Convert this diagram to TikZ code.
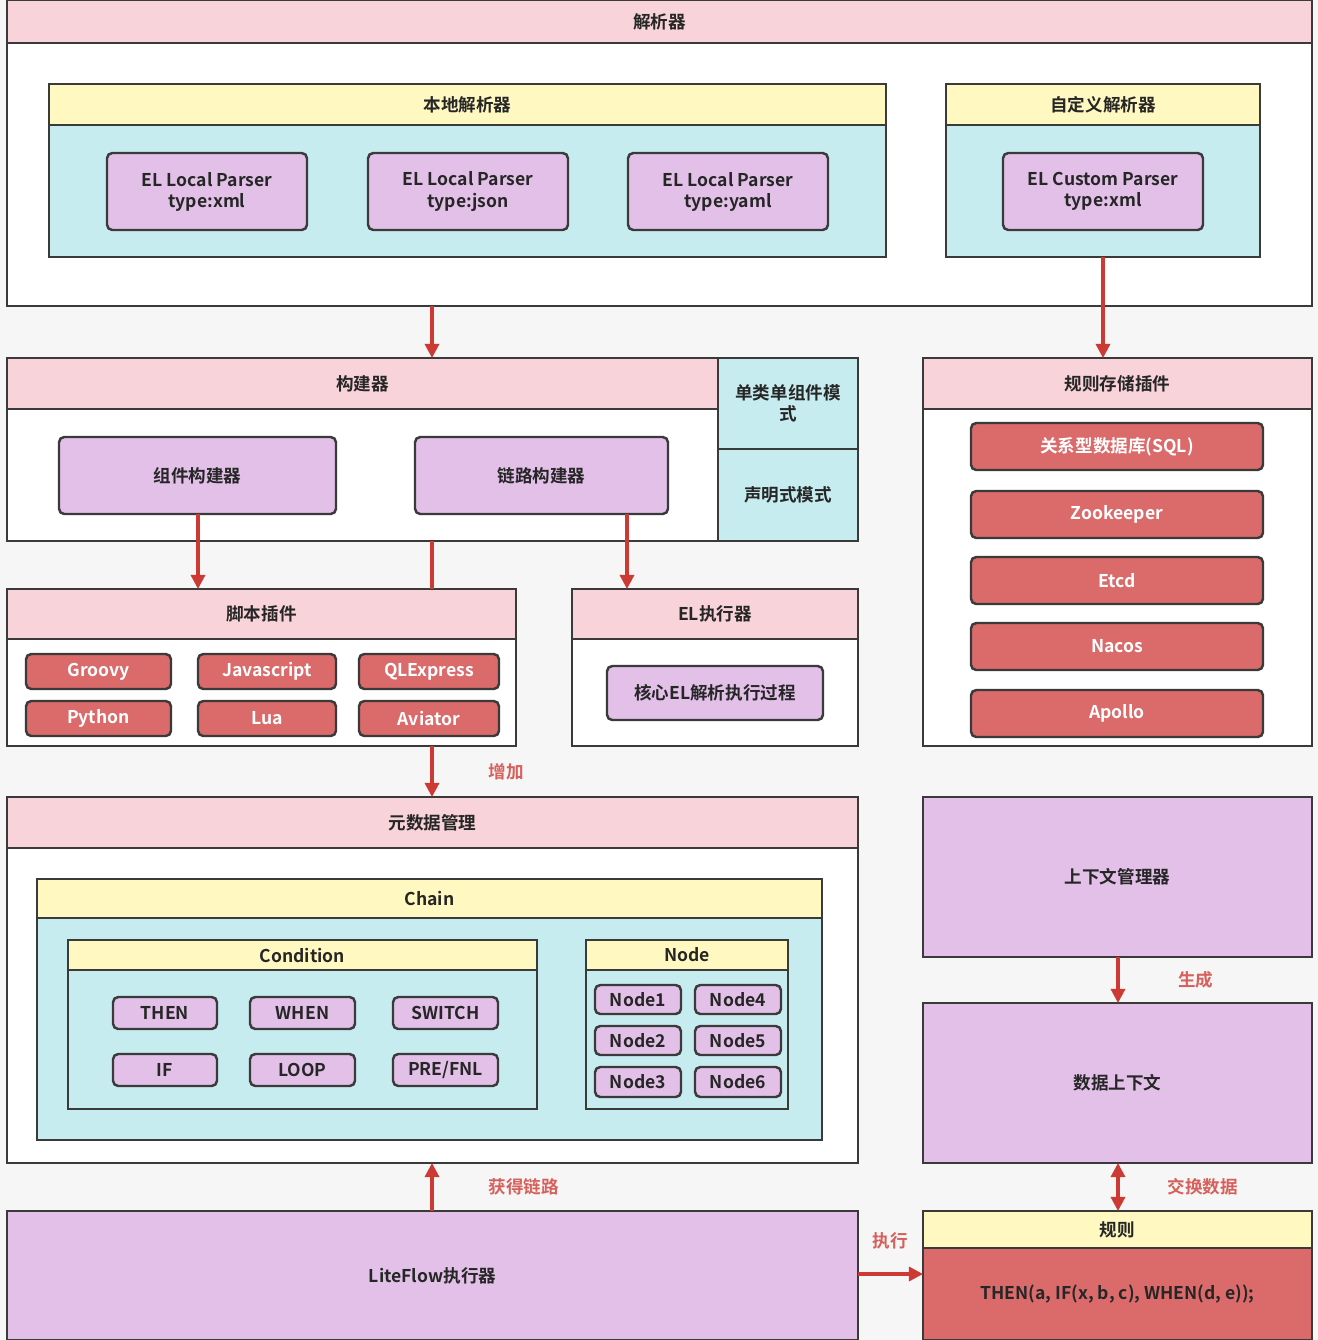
\documentclass[tikz,border=0pt]{standalone}
\usepackage{fontspec}
\setmainfont{Noto Sans CJK SC}[BoldFont={Noto Sans CJK SC Bold}]
\usetikzlibrary{arrows.meta}
\definecolor{bg}{HTML}{F6F6F6}
\definecolor{pk}{HTML}{F8D3DA}
\definecolor{yl}{HTML}{FFF8C0}
\definecolor{cy}{HTML}{C6ECF0}
\definecolor{pu}{HTML}{E2C0E8}
\definecolor{rd}{HTML}{DB6B6B}
\definecolor{ar}{HTML}{CC3A33}
\definecolor{ln}{HTML}{3A3A3A}
\tikzset{
 base/.style={draw=ln,line width=1.4pt,inner sep=0,outer sep=0,font=\bfseries\fontsize{10}{12}\selectfont,align=center,text=black!85},
 wh/.style={base,fill=white},
 hd/.style={base,fill=pk},
 yh/.style={base,fill=yl},
 cb/.style={base,fill=cy},
 pn/.style={base,fill=pu,rounded corners=3pt},
 pb/.style={base,fill=pu},
 rn/.style={base,fill=rd,rounded corners=3pt,text=white},
 rb/.style={base,fill=rd},
 arr/.style={draw=ar,line width=1.8pt,-{Triangle[length=8pt,width=8pt]}},
 darr/.style={draw=ar,line width=1.8pt,{Triangle[length=8pt,width=8pt]}-{Triangle[length=8pt,width=8pt]}},
 lbl/.style={text=ar!80,font=\bfseries\fontsize{10}{12}\selectfont},
}
\newcommand{\bx}[7]{\node[#6,minimum width={(#4-#2)*0.02cm},minimum height={(#5-#3)*0.02cm}] (#1) at ({(#2+#4)/2},{(#3+#5)/2}) {#7};}
\begin{document}
\begin{tikzpicture}[x=0.02cm,y=-0.02cm]
\fill[bg] (0,0) rectangle (1318,1340);
\useasboundingbox (0,0) rectangle (1318,1340);
% parser
\bx{parser}{7}{0}{1312}{306}{wh}{}
\bx{parserh}{7}{0}{1312}{43}{hd}{解析器}
\bx{local}{49}{84}{886}{257}{cb}{}
\bx{localh}{49}{84}{886}{125}{yh}{本地解析器}
\bx{lp1}{107}{153}{307}{230}{pn}{EL Local Parser\\type:xml}
\bx{lp2}{368}{153}{568}{230}{pn}{EL Local Parser\\type:json}
\bx{lp3}{628}{153}{828}{230}{pn}{EL Local Parser\\type:yaml}
\bx{cust}{946}{84}{1260}{257}{cb}{}
\bx{custh}{946}{84}{1260}{125}{yh}{自定义解析器}
\bx{cp}{1003}{153}{1203}{230}{pn}{EL Custom Parser\\type:xml}
% builder
\bx{bld}{7}{358}{718}{541}{wh}{}
\bx{bldh}{7}{358}{718}{409}{hd}{构建器}
\bx{m1}{718}{358}{858}{449}{cb}{单类单组件模\\式}
\bx{m2}{718}{449}{858}{541}{cb}{声明式模式}
\bx{cb1}{59}{437}{336}{514}{pn}{组件构建器}
\bx{cb2}{415}{437}{668}{514}{pn}{链路构建器}
% storage
\bx{st}{923}{358}{1312}{746}{wh}{}
\bx{sth}{923}{358}{1312}{409}{hd}{规则存储插件}
\bx{s1}{971}{423}{1263}{470}{rn}{关系型数据库(SQL)}
\bx{s2}{971}{491}{1263}{538}{rn}{Zookeeper}
\bx{s3}{971}{557}{1263}{604}{rn}{Etcd}
\bx{s4}{971}{623}{1263}{670}{rn}{Nacos}
\bx{s5}{971}{690}{1263}{737}{rn}{Apollo}
% script
\bx{sc}{7}{589}{516}{746}{wh}{}
\bx{sch}{7}{589}{516}{639}{hd}{脚本插件}
\bx{g1}{26}{654}{171}{689}{rn}{Groovy}
\bx{g2}{198}{654}{336}{689}{rn}{Javascript}
\bx{g3}{359}{654}{499}{689}{rn}{QLExpress}
\bx{g4}{26}{701}{171}{736}{rn}{Python}
\bx{g5}{198}{701}{336}{736}{rn}{Lua}
\bx{g6}{359}{701}{499}{736}{rn}{Aviator}
% EL exec
\bx{ex}{572}{589}{858}{746}{wh}{}
\bx{exh}{572}{589}{858}{639}{hd}{EL执行器}
\bx{core}{607}{666}{823}{720}{pn}{核心EL解析执行过程}
% metadata
\bx{md}{7}{797}{858}{1163}{wh}{}
\bx{mdh}{7}{797}{858}{848}{hd}{元数据管理}
\bx{ch}{37}{879}{822}{1140}{cb}{}
\bx{chh}{37}{879}{822}{918}{yh}{Chain}
\bx{cd}{68}{940}{537}{1109}{cb}{}
\bx{cdh}{68}{940}{537}{970}{yh}{Condition}
\bx{c1}{113}{997}{217}{1029}{pn}{THEN}
\bx{c2}{250}{997}{355}{1029}{pn}{WHEN}
\bx{c3}{393}{997}{498}{1029}{pn}{SWITCH}
\bx{c4}{113}{1054}{217}{1086}{pn}{IF}
\bx{c5}{250}{1054}{355}{1086}{pn}{LOOP}
\bx{c6}{393}{1054}{498}{1086}{pn}{PRE/FNL}
\bx{nd}{586}{940}{788}{1109}{cb}{}
\bx{ndh}{586}{940}{788}{970}{yh}{Node}
\bx{n1}{595}{985}{681}{1014}{pn}{Node1}
\bx{n4}{695}{985}{781}{1014}{pn}{Node4}
\bx{n2}{595}{1026}{681}{1055}{pn}{Node2}
\bx{n5}{695}{1026}{781}{1055}{pn}{Node5}
\bx{n3}{595}{1067}{681}{1097}{pn}{Node3}
\bx{n6}{695}{1067}{781}{1097}{pn}{Node6}
% context
\bx{ctx}{923}{797}{1312}{957}{pb}{上下文管理器}
\bx{dctx}{923}{1003}{1312}{1163}{pb}{数据上下文}
\bx{rule}{923}{1248}{1312}{1340}{rb}{THEN(a, IF(x, b, c), WHEN(d, e));}
\bx{ruleh}{923}{1211}{1312}{1248}{yh}{规则}
\bx{lf}{7}{1211}{858}{1340}{pb}{LiteFlow执行器}
% connectors
\coordinate (x432) at (432,0);
\coordinate (x1103) at (1103,0);
\coordinate (x198) at (198,0);
\coordinate (x627) at (627,0);
\coordinate (x1118) at (1118,0);
\coordinate (y1274) at (0,1274);
\draw[arr] (parser.south -| x432) -- (bldh.north -| x432);
\draw[arr] (cust.south -| x1103) -- (sth.north -| x1103);
\draw[arr] (cb1.south -| x198) -- (sch.north -| x198);
\draw[arr] (cb2.south -| x627) -- (exh.north -| x627);
\draw[draw=ar,line width=1.8pt] (bld.south -| x432) -- (sch.north -| x432);
\draw[arr] (sc.south -| x432) -- node[lbl,right=28pt]{增加} (mdh.north -| x432);
\draw[arr] (ctx.south -| x1118) -- node[lbl,right=30pt]{生成} (dctx.north -| x1118);
\draw[darr] (dctx.south -| x1118) -- node[lbl,right=24pt]{交换数据} (ruleh.north -| x1118);
\draw[arr] (lf.north -| x432) -- node[lbl,right=28pt]{获得链路} (md.south -| x432);
\draw[arr] (lf.east |- y1274) -- node[lbl,above=10pt]{执行} (rule.west |- y1274);
\end{tikzpicture}
\end{document}
